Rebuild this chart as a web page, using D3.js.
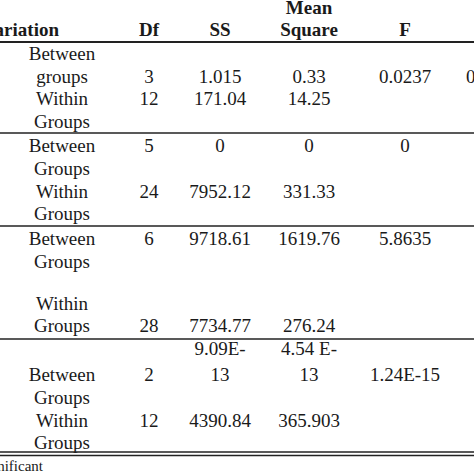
<!DOCTYPE html>
<html><head><meta charset="utf-8">
<script src="https://cdn.jsdelivr.net/npm/d3@7/dist/d3.min.js"></script>
<style>body{margin:0;background:#fff}text{font-family:"Liberation Serif","Times New Roman",serif;fill:#1a1a1a}</style>
</head><body>
<script>
const headers = ["ariation","Df","SS","Square","F"];
const headerTop = ["","","","Mean",""];
// each text line: [variation, df, ss, ms, f, p]
const lines = [
 ["Between","","","","",""],
 ["groups","3","1.015","0.33","0.0237","0.99"],
 ["Within","12","171.04","14.25","",""],
 ["Groups","","","","",""],
 ["Between","5","0","0","0",""],
 ["Groups","","","","",""],
 ["Within","24","7952.12","331.33","",""],
 ["Groups","","","","",""],
 ["Between","6","9718.61","1619.76","5.8635",""],
 ["Groups","","","","",""],
 ["Within","","","","",""],
 ["Groups","28","7734.77","276.24","",""],
 ["","","9.09E-","4.54 E-","",""],
 ["Between","2","13","13","1.24E-15",""],
 ["Groups","","","","",""],
 ["Within","12","4390.84","365.903","",""],
 ["Groups","","","","",""]
];
const baselines = [60,83,105,128,152,175,198,220,245,268,310,332,355,381,404,427,449];
const ruleY = [42,133,226,339];
const colX = [62,149,220,309,405,466];
const footnote = "significant";

const svg = d3.select("body").append("svg").attr("width",474).attr("height",474);
const x = d3.scaleOrdinal().domain(d3.range(6)).range(colX);

svg.selectAll("text.h").data(headers).join("text")
 .attr("y",36).attr("text-anchor",(d,i)=>i==0?"end":"middle")
 .attr("x",(d,i)=>i==0?59:x(i))
 .attr("font-size",19).attr("font-weight","bold").text(d=>d);
svg.selectAll("text.ht").data(headerTop).join("text")
 .attr("x",(d,i)=>x(i)).attr("y",14).attr("text-anchor","middle")
 .attr("font-size",19).attr("font-weight","bold").text(d=>d);

lines.forEach((row,r)=>{
  svg.append("g").selectAll("text").data(row).join("text")
   .attr("x",(d,i)=>x(i)).attr("y",baselines[r])
   .attr("text-anchor",(d,i)=>i==5?"start":"middle")
   .attr("font-size",19).text(d=>d);
});

svg.selectAll("line.r").data(ruleY).join("line")
 .attr("x1",0).attr("x2",474).attr("y1",d=>d).attr("y2",d=>d)
 .attr("stroke","#222").attr("stroke-width",(d,i)=>i==0?2.2:1.6);
[452,455.5].forEach(y=>svg.append("line").attr("x1",0).attr("x2",474).attr("y1",y).attr("y2",y).attr("stroke","#222").attr("stroke-width",1.3));

svg.append("text").attr("x",43).attr("y",471).attr("text-anchor","end").attr("font-size",15).text(footnote);
</script>
</body></html>
